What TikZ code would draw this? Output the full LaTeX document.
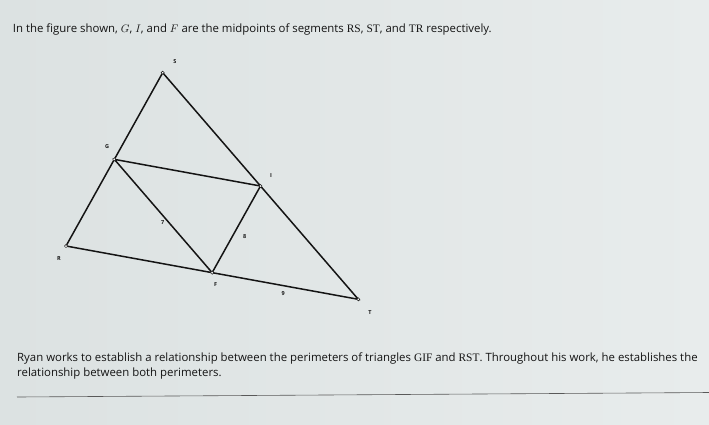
\documentclass[tikz,border=0pt]{standalone}
\usepackage{fontspec}
\setmainfont{Open Sans}
\newfontfamily\serifnames{Liberation Serif}
\usepackage{amsmath}
\usetikzlibrary{calc}

\definecolor{paper}{RGB}{220,226,226}
\definecolor{paperlight}{RGB}{232,236,236}
\definecolor{ink}{RGB}{20,20,20}

\newcommand{\segname}[1]{{\serifnames #1}}

\tikzset{
	vertex/.style = {circle, draw = ink, fill = white, inner sep = 0pt, minimum size = 3.2pt, line width = 0.5pt},
	tag/.style = {font = \fontsize{5.5}{6}\selectfont\bfseries, text = ink, inner sep = 0pt},
	side/.style = {draw = ink, line width = 1.5pt},
	prose/.style = {anchor = base west, inner sep = 0pt, text = ink, font = \fontsize{11.4}{15}\selectfont}
}

\begin{document}
\begin{tikzpicture}[x = 1pt, y = -1pt]
		%page
		\useasboundingbox (0,0) rectangle (709,424);
		\shade [left color = paper, right color = paperlight] (0,0) rectangle (709,424);
		
		%vertices
		\coordinate (S) at (162.7,72.7);
		\coordinate (R) at (66,246);
		\coordinate (T) at (358.3,299.3);
		
		%midpoints
		\coordinate (G) at ($(R)!0.5!(S)$);
		\coordinate (I) at ($(S)!0.5!(T)$);
		\coordinate (F) at ($(T)!0.5!(R)$);
		
		%triangle RST
		\draw [side] (R) -- (S) -- (T) -- cycle;
		
		%triangle GIF
		\draw [side] (G) -- (I) -- (F) -- cycle;
		
		%points
		\foreach \p in {S, R, T, G, I, F}
			\node [vertex] (v\p) at (\p) {};
		
		%labels
		\node [tag] (lS) at (175,61.7) {S};
		\node [tag] (lG) at (107,147) {G};
		\node [tag] (lI) at (271,176) {I};
		\node [tag] (lR) at (59,259) {R};
		\node [tag] (lF) at (215.7,285) {F};
		\node [tag] (lT) at (370,313) {T};
		\node [tag] (l7) at (162.7,222.7) {7};
		\node [tag] (l8) at (244.7,236.7) {8};
		\node [tag] (l9) at (283.3,293.3) {9};
		
		%text
		\node [prose] (top) at (12.7,32)
			{In the figure shown, $G$, $I$, and $F$ are the midpoints of segments \segname{RS}, \segname{ST}, and \segname{TR} respectively.};
		\node [prose] (bottom1) at (17,361.5)
			{Ryan works to establish a relationship between the perimeters of triangles \segname{GIF} and \segname{RST}. Throughout his work, he establishes the};
		\node [prose] (bottom2) at (17,376.5)
			{relationship between both perimeters.};
		
		%rule
		\coordinate (a) at (17,397);
		\coordinate (b) at (709,392.5);
		\draw [gray!70!black, line width = 0.6pt] (a) -- (b);

	\end{tikzpicture}
\end{document}
